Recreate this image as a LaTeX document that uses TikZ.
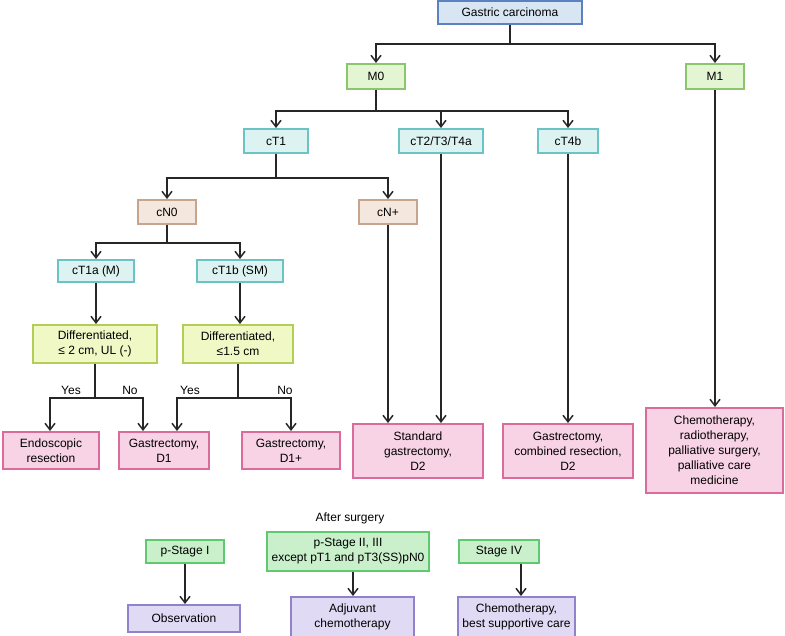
\documentclass[tikz,border=0pt]{standalone}
\usepackage{fontspec}
\setmainfont{Liberation Sans}
\usetikzlibrary{arrows.meta}
\definecolor{gcF}{HTML}{D8E6F4}\definecolor{gcD}{HTML}{5A82C2}
\definecolor{mF}{HTML}{E4F5D4}\definecolor{mD}{HTML}{8CC66C}
\definecolor{tF}{HTML}{DDF3F2}\definecolor{tD}{HTML}{6CC3C3}
\definecolor{nF}{HTML}{F4E7DD}\definecolor{nD}{HTML}{C6A48E}
\definecolor{dF}{HTML}{F0F8C6}\definecolor{dD}{HTML}{B3CE57}
\definecolor{pF}{HTML}{F8D3E5}\definecolor{pD}{HTML}{D96C9C}
\definecolor{sF}{HTML}{C9F0CB}\definecolor{sD}{HTML}{5FC970}
\definecolor{vF}{HTML}{E1DAF5}\definecolor{vD}{HTML}{9182CC}
\tikzset{
  bx/.style={rectangle,draw,line width=2pt,inner sep=0pt,align=center,
    font=\fontsize{12}{15}\selectfont},
  gcbox/.style={bx,fill=gcF,draw=gcD},
  mbox/.style={bx,fill=mF,draw=mD},
  tbox/.style={bx,fill=tF,draw=tD},
  nbox/.style={bx,fill=nF,draw=nD},
  dbox/.style={bx,fill=dF,draw=dD},
  pbox/.style={bx,fill=pF,draw=pD},
  sbox/.style={bx,fill=sF,draw=sD},
  vbox/.style={bx,fill=vF,draw=vD},
  arr/.style={line width=2pt,draw=black!85,-{Straight Barb[length=6.5pt,width=10pt,line width=1.5pt]}},
  lbl/.style={font=\fontsize{12}{15}\selectfont,inner sep=0pt},
}
\begin{document}
\begin{tikzpicture}[x=1pt,y=-1pt]
\useasboundingbox (0,0) rectangle (785,636);
\fill[white] (0,0) rectangle (785,636);
% top level
\node[gcbox,minimum width=144,minimum height=23] (gc) at (510,12.5) {Gastric carcinoma};
\node[mbox,minimum width=58,minimum height=25] (m0) at (376,76.5) {M0};
\node[mbox,minimum width=58,minimum height=25] (m1) at (715,76.5) {M1};
\node[tbox,minimum width=64,minimum height=24] (ct1) at (276,141) {cT1};
\node[tbox,minimum width=84,minimum height=24] (ct2) at (441,141) {cT2/T3/T4a};
\node[tbox,minimum width=60,minimum height=24] (ct4) at (568,141) {cT4b};
\node[nbox,minimum width=58,minimum height=24] (cn0) at (167,212) {cN0};
\node[nbox,minimum width=58,minimum height=24] (cnp) at (388,212) {cN+};
\node[tbox,minimum width=76,minimum height=22] (ct1a) at (96,271) {cT1a (M)};
\node[tbox,minimum width=86,minimum height=22] (ct1b) at (240,271) {cT1b (SM)};
\node[dbox,minimum width=124,minimum height=38] (d1) at (95,344) {Differentiated,\\ ≤ 2 cm, UL (-)};
\node[dbox,minimum width=110,minimum height=38] (d2) at (238,344) {Differentiated,\\ ≤1.5 cm};
\node[pbox,minimum width=96,minimum height=37] (endo) at (51,450.5) {Endoscopic\\ resection};
\node[pbox,minimum width=90,minimum height=37] (g1) at (164,450.5) {Gastrectomy,\\ D1};
\node[pbox,minimum width=98,minimum height=37] (g1p) at (291,450.5) {Gastrectomy,\\ D1+};
\node[pbox,minimum width=130,minimum height=54] (std) at (418,451) {Standard\\ gastrectomy,\\ D2};
\node[pbox,minimum width=130,minimum height=54] (comb) at (568,451) {Gastrectomy,\\ combined resection,\\ D2};
\node[pbox,minimum width=137,minimum height=85] (chm) at (714.5,450.5) {Chemotherapy,\\ radiotherapy,\\ palliative surgery,\\ palliative care\\ medicine};
% labels
\node[lbl] (y1) at (71,390) {Yes};
\node[lbl] (n1) at (130,390) {No};
\node[lbl] (y2) at (190,390) {Yes};
\node[lbl] (n2) at (285,390) {No};
% after surgery
\node[lbl] (as) at (350,518) {After surgery};
\node[sbox,minimum width=78,minimum height=23] (ps1) at (185,551.5) {p-Stage I};
\node[sbox,minimum width=162,minimum height=39] (ps2) at (348,551.5) {p-Stage II, III\\ except pT1 and pT3(SS)pN0};
\node[sbox,minimum width=80,minimum height=23] (ps4) at (499,551.5) {Stage IV};
\node[vbox,minimum width=112,minimum height=27] (obs) at (184,618.5) {Observation};
\node[vbox,minimum width=123,minimum height=40] (adj) at (352.5,617) {Adjuvant\\ chemotherapy};
\node[vbox,minimum width=117,minimum height=40] (cbs) at (516.5,617) {Chemotherapy,\\ best supportive care};
% connectors
\draw[arr] (gc.south) -- ++(0,19) -| (m0.north);
\draw[arr] (gc.south) -- ++(0,19) -| (m1.north);
\draw[arr] (m0.south) -- ++(0,21) -| (ct1.north);
\draw[arr] (m0.south) -- ++(0,21) -| (ct2.north);
\draw[arr] (m0.south) -- ++(0,21) -| (ct4.north);
\draw[arr] (ct1.south) -- ++(0,24) -| (cn0.north);
\draw[arr] (ct1.south) -- ++(0,24) -| (cnp.north);
\draw[arr] (cn0.south) -- ++(0,18) -| (ct1a.north);
\draw[arr] (cn0.south) -- ++(0,18) -| (ct1b.north);
\draw[arr] (ct1a.south) -- (ct1a.south |- d1.north);
\draw[arr] (ct1b.south) -- (ct1b.south |- d2.north);
\draw[arr] (d1.south) -- ++(0,34) -| ([xshift=-1pt]endo.north);
\draw[arr] (d1.south) -- ++(0,34) -| ([xshift=-21pt]g1.north);
\draw[arr] (d2.south) -- ++(0,34) -| ([xshift=13pt]g1.north);
\draw[arr] (d2.south) -- ++(0,34) -| (g1p.north);
\draw[arr] (cnp.south) -- (cnp.south |- std.north);
\draw[arr] (ct2.south) -- (ct2.south |- std.north);
\draw[arr] (ct4.south) -- (ct4.south |- comb.north);
\draw[arr] (m1.south) -- (m1.south |- chm.north);
\draw[arr] (ps1.south) -- (ps1.south |- obs.north);
\draw[arr] ([xshift=5pt]ps2.south) -- ([xshift=5pt]ps2.south |- adj.north);
\draw[arr] ([xshift=22pt]ps4.south) -- ([xshift=22pt]ps4.south |- cbs.north);
\end{tikzpicture}
\end{document}
